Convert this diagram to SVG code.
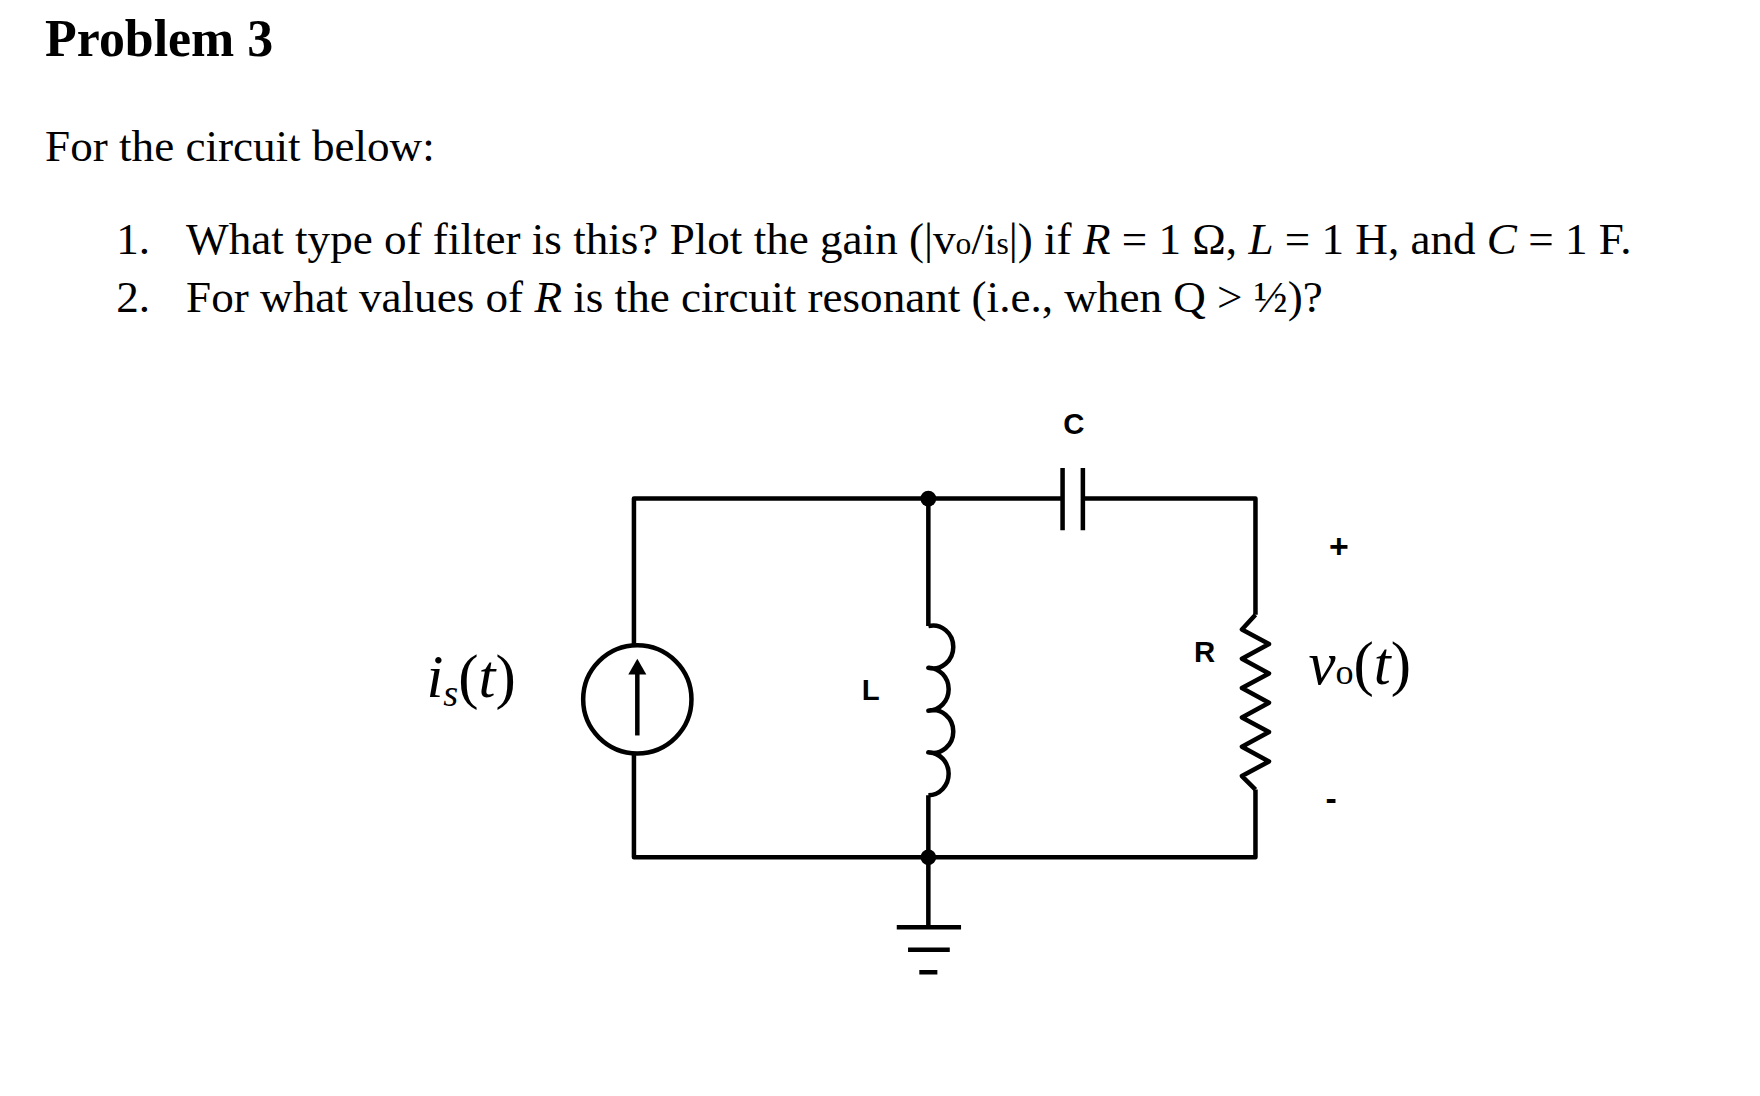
<svg xmlns="http://www.w3.org/2000/svg" width="1760" height="1096" viewBox="0 0 1760 1096">
<style>
.t{font-family:"Liberation Serif",serif;fill:#000}
.s{font-family:"Liberation Sans",Arial,sans-serif;font-weight:bold;fill:#000}
.w{stroke:#000;stroke-width:4;fill:none;stroke-linejoin:round}
</style>
<rect width="1760" height="1096" fill="#fff"/>
<g transform="scale(1.128)">
<text class="t" x="40" y="50" font-size="46" font-weight="bold">Problem 3</text>
<text class="t" x="40" y="143" font-size="40">For the circuit below:</text>
<text class="t" x="103" y="225" font-size="40">1.</text>
<text class="t" x="165" y="225" font-size="40">What type of filter is this? Plot the gain (|v<tspan font-size="28">o</tspan>/i<tspan font-size="28">s</tspan>|) if <tspan font-style="italic">R</tspan> = 1 Ω, <tspan font-style="italic">L</tspan> = 1 H, and <tspan font-style="italic">C</tspan> = 1 F.</text>
<text class="t" x="103" y="277" font-size="40">2.</text>
<text class="t" x="165" y="277" font-size="40">For what values of <tspan font-style="italic">R</tspan> is the circuit resonant (i.e., when Q &gt; ½)?</text>
<g id="connectors">
<path class="w" d="M942 442 H562 V572 M562 668 V760 H1113 V700 M960 442 H1113 V545 M823 442 V555 M823 705 V822"/>
</g>
<g id="source"><circle class="w" cx="565" cy="620" r="48"/><path class="w" d="M565 652 V592"/><path d="M557 598 L565 584 L573 598 Z" fill="#000"/></g>
<g id="inductor"><path class="w" d="M823 555 a18 19 0 1 1 0 37 a18 19 0 1 1 0 38 a18 19 0 1 1 0 37 a18 19 0 1 1 0 38"/></g>
<g id="capacitor"><path class="w" d="M942 415 V470 M960 415 V470"/></g>
<g id="resistor"><path class="w" d="M1113 545 L1101 558 L1125 571 L1101 584 L1125 597 L1101 610 L1125 623 L1101 636 L1125 649 L1101 662 L1125 675 L1101 688 L1113 700"/></g>
<g id="ground"><path class="w" d="M795 822 H852 M805 842 H842 M815 862 H831"/></g>
<g id="nodes"><circle cx="823" cy="442" r="7"/><circle cx="823" cy="760" r="7"/></g>
<text class="s" x="952" y="385" font-size="26" text-anchor="middle">C</text>
<text class="s" x="772" y="621" font-size="26" text-anchor="middle">L</text>
<text class="s" x="1068" y="587" font-size="26" text-anchor="middle">R</text>
<text class="s" x="1187" y="495" font-size="30" text-anchor="middle">+</text>
<text class="s" x="1180" y="718" font-size="30" text-anchor="middle">-</text>
<text class="t" x="378" y="618" font-size="54" font-style="italic">i<tspan font-size="34" dy="8">s</tspan><tspan dy="-8" font-style="normal">(</tspan>t<tspan font-style="normal">)</tspan></text>
<text class="t" x="1160" y="606" font-size="54" font-style="italic">v<tspan font-size="32" font-style="normal">o</tspan><tspan font-style="normal">(</tspan>t<tspan font-style="normal">)</tspan></text>
</g>
</svg>
